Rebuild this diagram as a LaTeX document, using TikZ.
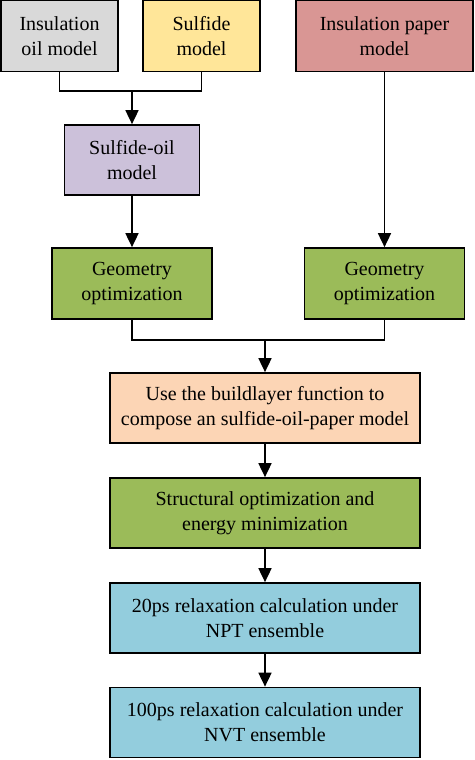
\documentclass[tikz,border=0pt]{standalone}
\usepackage{fontspec}
\setmainfont{Liberation Serif}
\usetikzlibrary{arrows.meta,positioning}
\definecolor{OilGray}{HTML}{D9D9D9}
\definecolor{SulfideYellow}{HTML}{FFE699}
\definecolor{PaperRose}{HTML}{D99694}
\definecolor{MixLavender}{HTML}{CCC1DA}
\definecolor{OptGreen}{HTML}{9BBB59}
\definecolor{BuildPeach}{HTML}{FCD5B5}
\definecolor{RelaxBlue}{HTML}{93CDDD}
\tikzset{
    % Base box style
    basebox/.style={
        draw=black,
        line width=1.7pt,
        minimum height=71pt,
        align=center,
        inner sep=2pt,
        font=\fontsize{20}{25}\selectfont
    },
    % Input model boxes
    oilbox/.style={basebox, fill=OilGray, minimum width=117pt},
    sulfidebox/.style={basebox, fill=SulfideYellow, minimum width=117pt},
    paperbox/.style={basebox, fill=PaperRose, minimum width=177pt},
    mixbox/.style={basebox, fill=MixLavender, minimum width=135pt, minimum height=70pt},
    % Optimization boxes
    optbox/.style={basebox, fill=OptGreen},
    % Wide process boxes
    buildbox/.style={basebox, fill=BuildPeach, minimum width=310pt, minimum height=70pt},
    relaxbox/.style={basebox, fill=RelaxBlue, minimum width=310pt, minimum height=70pt},
    % Connectors
    myline/.style={line width=1.7pt, draw=black},
    myarrow/.style={
        -{Triangle[length=14pt,width=13pt]},
        line width=1.7pt,
        draw=black
    }
}
\begin{document}
\begin{tikzpicture}[x=1pt,y=-1pt]
        \useasboundingbox (0,0) rectangle (474,760);
        % Input models
        \node[oilbox] (oil) at (59.5,36) {Insulation\\oil model};
        \node[sulfidebox] (sulfide) at (201.5,36) {Sulfide\\model};
        \node[paperbox] (paper) at (384.5,36) {Insulation paper\\model};
        \node[mixbox] (soil) at (132,160) {Sulfide-oil\\model};

        % Geometry optimization
        \node[optbox, minimum width=160pt] (geo1) at (132,283.5) {Geometry\\optimization};
        \node[optbox, minimum width=160pt] (geo2) at (384.5,283.5) {Geometry\\optimization};

        % Main chain
        \node[buildbox] (build) at (265,408) {Use the buildlayer function to\\compose an sulfide-oil-paper model};
        \node[optbox, minimum width=310pt, minimum height=70pt] (struct) at (265,513) {Structural optimization and\\energy minimization};
        \node[relaxbox] (npt) at (265,618) {20ps relaxation calculation under\\NPT ensemble};
        \node[relaxbox] (nvt) at (265,722.5) {100ps relaxation calculation under\\NVT ensemble};

        % Junctions
        \coordinate (j1) at (132,91);
        \coordinate (j2) at (265,340);

        % Arrows
        \draw[myline] (oil.south) |- (j1) -| (sulfide.south);
        \draw[myarrow] (j1) -- (soil.north);
        \draw[myarrow] (soil.south) -- (geo1.north);
        \draw[myarrow] (paper.south) -- (geo2.north);
        \draw[myline] (geo1.south) |- (j2) -| (geo2.south);
        \draw[myarrow] (j2) -- (build.north);
        \draw[myarrow] (build) -- (struct);
        \draw[myarrow] (struct) -- (npt);
        \draw[myarrow] (npt) -- (nvt);
    \end{tikzpicture}
\end{document}
